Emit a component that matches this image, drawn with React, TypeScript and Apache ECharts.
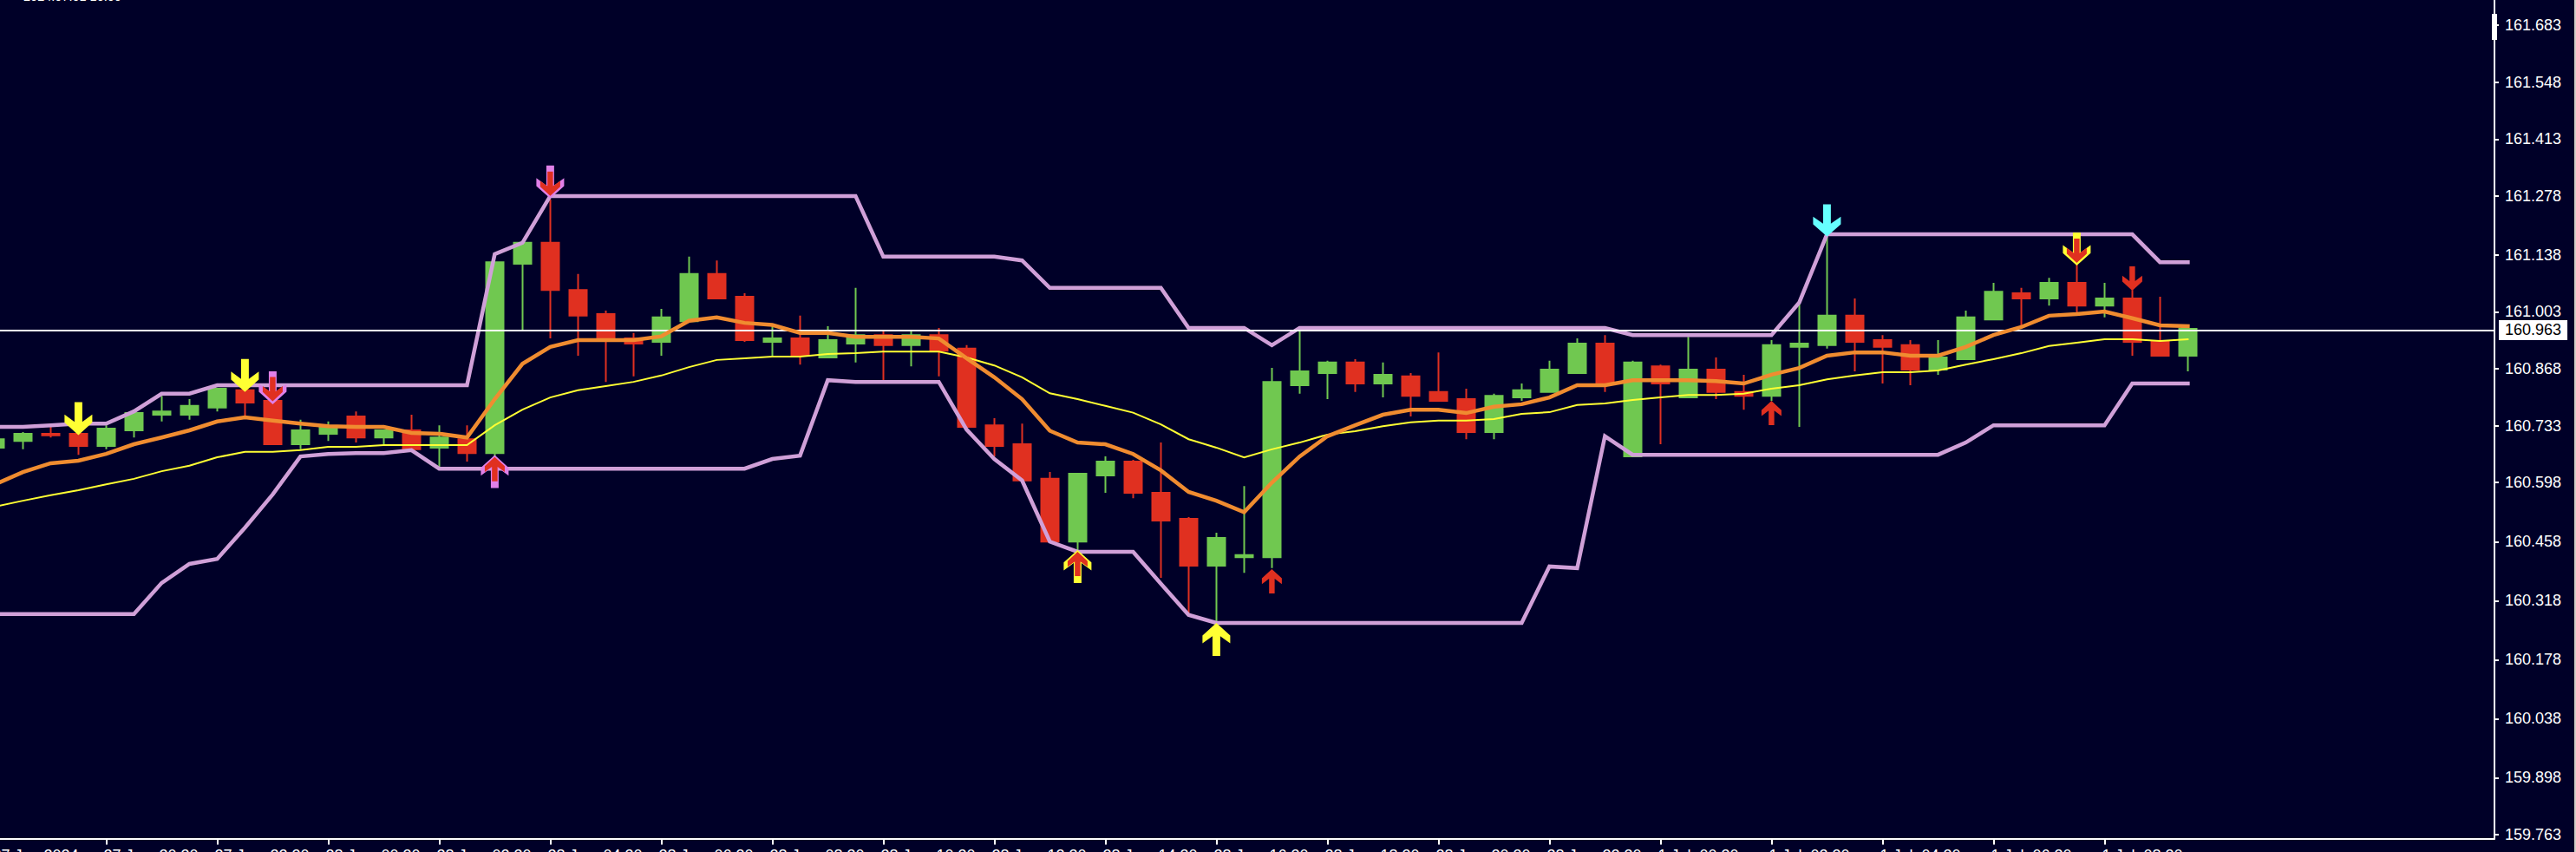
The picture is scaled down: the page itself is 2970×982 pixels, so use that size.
import React, { useEffect, useRef } from "react";
import * as echarts from "echarts";

const W = 2970;
const H = 982;

const opens = [160.681,160.697,160.714,160.714,160.685,160.722,160.759,160.759,160.776,160.817,160.792,160.689,160.714,160.755,160.705,160.722,160.681,160.701,160.668,161.117,161.167,161.055,160.998,160.940,160.932,160.981,161.093,161.039,160.932,160.940,160.895,160.928,160.948,160.924,160.948,160.916,160.734,160.689,160.607,160.458,160.615,160.648,160.574,160.512,160.401,160.421,160.421,160.829,160.858,160.883,160.833,160.850,160.813,160.796,160.718,160.800,160.813,160.858,160.928,160.660,160.874,160.800,160.866,160.813,160.804,160.920,160.924,160.994,160.936,160.924,160.866,160.891,160.985,161.047,161.035,161.072,161.018,161.035,160.932,160.899];
const closes = [160.701,160.714,160.710,160.685,160.726,160.763,160.767,160.780,160.821,160.788,160.689,160.722,160.730,160.705,160.722,160.677,160.705,160.668,161.121,161.167,161.055,160.994,160.936,160.928,160.990,161.093,161.035,160.936,160.940,160.899,160.936,160.948,160.924,160.948,160.911,160.730,160.685,160.603,160.458,160.619,160.648,160.574,160.508,160.401,160.467,160.426,160.837,160.862,160.883,160.833,160.854,160.804,160.792,160.718,160.804,160.817,160.866,160.928,160.833,160.883,160.833,160.866,160.813,160.804,160.924,160.928,160.994,160.932,160.920,160.866,160.895,160.990,161.051,161.035,161.072,161.018,161.035,160.932,160.899,160.963];
const lows = [160.681,160.677,160.705,160.664,160.677,160.705,160.743,160.747,160.767,160.755,160.689,160.677,160.697,160.693,160.689,160.677,160.635,160.648,160.660,160.957,160.940,160.899,160.837,160.850,160.899,160.981,161.035,160.932,160.899,160.878,160.895,160.883,160.841,160.874,160.850,160.730,160.660,160.603,160.458,160.434,160.574,160.561,160.372,160.288,160.263,160.384,160.395,160.809,160.796,160.813,160.800,160.755,160.792,160.701,160.701,160.792,160.813,160.858,160.813,160.660,160.689,160.800,160.796,160.771,160.792,160.730,160.916,160.862,160.833,160.829,160.854,160.891,160.985,160.969,161.018,160.996,160.990,160.899,160.899,160.862];
const highs = [160.701,160.718,160.730,160.714,160.734,160.763,160.804,160.796,160.821,160.817,160.792,160.747,160.743,160.767,160.722,160.759,160.734,160.734,161.121,161.167,161.270,161.093,161.006,160.953,161.010,161.134,161.125,161.047,160.969,160.994,160.969,161.060,160.957,160.961,160.965,160.924,160.751,160.738,160.623,160.619,160.660,160.652,160.693,160.516,160.479,160.590,160.870,160.957,160.887,160.891,160.883,160.858,160.907,160.821,160.809,160.833,160.887,160.940,160.948,160.887,160.878,160.944,160.895,160.854,160.936,161.023,161.181,161.035,160.948,160.936,160.936,161.006,161.072,161.060,161.084,161.115,161.072,161.055,161.039,160.965];

const upperBand = [160.730,160.730,160.734,160.738,160.738,160.767,160.809,160.809,160.829,160.829,160.829,160.829,160.829,160.829,160.829,160.829,160.829,160.829,161.140,161.167,161.278,161.278,161.278,161.278,161.278,161.278,161.278,161.278,161.278,161.278,161.278,161.278,161.134,161.134,161.134,161.134,161.134,161.125,161.060,161.060,161.060,161.060,161.060,160.965,160.965,160.965,160.924,160.965,160.965,160.965,160.965,160.965,160.965,160.965,160.965,160.965,160.965,160.965,160.965,160.948,160.948,160.948,160.948,160.948,160.948,161.025,161.187,161.187,161.187,161.187,161.187,161.187,161.187,161.187,161.187,161.187,161.187,161.187,161.121,161.121];
const lowerBand = [160.286,160.286,160.286,160.286,160.286,160.286,160.360,160.405,160.417,160.491,160.570,160.660,160.666,160.668,160.668,160.675,160.631,160.631,160.631,160.631,160.631,160.631,160.631,160.631,160.631,160.631,160.631,160.631,160.654,160.662,160.841,160.837,160.837,160.837,160.837,160.724,160.654,160.603,160.458,160.434,160.434,160.434,160.358,160.284,160.265,160.265,160.265,160.265,160.265,160.265,160.265,160.265,160.265,160.265,160.265,160.265,160.399,160.395,160.708,160.664,160.664,160.664,160.664,160.664,160.664,160.664,160.664,160.664,160.664,160.664,160.664,160.693,160.734,160.734,160.734,160.734,160.734,160.833,160.833,160.833];
const fastAverage = [160.594,160.623,160.644,160.650,160.666,160.689,160.705,160.722,160.743,160.753,160.745,160.738,160.732,160.730,160.730,160.716,160.714,160.705,160.796,160.880,160.920,160.936,160.936,160.936,160.945,160.982,160.990,160.977,160.972,160.953,160.953,160.944,160.944,160.944,160.940,160.893,160.848,160.796,160.721,160.693,160.689,160.666,160.627,160.576,160.555,160.528,160.598,160.660,160.708,160.734,160.759,160.771,160.771,160.763,160.778,160.784,160.800,160.829,160.829,160.841,160.841,160.841,160.839,160.833,160.854,160.870,160.899,160.907,160.907,160.899,160.899,160.920,160.948,160.967,160.994,160.998,161.004,160.988,160.971,160.969];
const slowAverage = [160.541,160.555,160.568,160.580,160.594,160.607,160.625,160.638,160.658,160.671,160.671,160.675,160.683,160.683,160.687,160.687,160.687,160.687,160.734,160.771,160.800,160.817,160.827,160.837,160.852,160.872,160.889,160.893,160.897,160.897,160.903,160.905,160.909,160.909,160.909,160.895,160.876,160.848,160.810,160.796,160.780,160.764,160.736,160.701,160.681,160.658,160.677,160.693,160.712,160.720,160.732,160.741,160.745,160.745,160.749,160.761,160.765,160.782,160.786,160.794,160.800,160.806,160.806,160.809,160.821,160.829,160.843,160.852,160.860,160.860,160.864,160.878,160.891,160.905,160.922,160.930,160.938,160.938,160.934,160.938];

const lastPrice = 160.963;
const priceTicks = [161.683,161.548,161.413,161.278,161.138,161.003,160.868,160.733,160.598,160.458,160.318,160.178,160.038,159.898,159.763];
const timeTickBars = [0,4,8,12,16,20,24,28,32,36,40,44,48,52,56,60,64,68,72,76];
const timeTickLabels = ["27 Jun 2024","27 Jun  20:30","27 Jun  22:30","28 Jun  00:30","28 Jun  02:30","28 Jun  04:30","28 Jun  06:30","28 Jun  08:30","28 Jun  10:30","28 Jun  12:30","28 Jun  14:30","28 Jun  16:30","28 Jun  18:30","28 Jun  20:30","28 Jun  22:30","1 Jul  00:30","1 Jul  02:30","1 Jul  04:30","1 Jul  06:30","1 Jul  08:30"];

const arrowsYellowDown = [[3,160.750],[9,160.852],[75,161.152]];
const arrowsYellowUp = [[39,160.399],[44,160.226]];
const arrowsLilacDown = [[10,160.823],[20,161.311]];
const arrowsLilacUp = [[18,160.624]];
const arrowsCyanDown = [[66,161.220]];
const arrowsRedDown = [[10,160.820],[20,161.307],[75,161.148],[77,161.082]];
const arrowsRedUp = [[18,160.630],[39,160.405],[46,160.364],[64,160.763]];

const BG = "#000028";
const GREEN = "#70C850";
const RED = "#E03020";
const LILAC = "#D0A0D8";
const ORANGE = "#F08C30";
const YELLOW = "#FFFF33";
const FONT = "'Liberation Sans', Arial, sans-serif";

const ARROW_DOWN = "path://M36 0L64 0L64 60L100 38L100 62L50 100L0 62L0 38L36 60Z";
const ARROW_UP = "path://M36 100L64 100L64 40L100 62L100 38L50 0L0 38L0 62L36 40Z";

const line = (name: string, values: number[], color: string, width: number, z: number) => ({
  name,
  type: "line",
  data: values.map((v, i) => [i, v]),
  showSymbol: false,
  symbol: "none",
  z,
  lineStyle: { color, width, cap: "square", join: "miter" },
  silent: true,
});

const arrows = (name: string, data: number[][], path: string, color: string, size: number[], z: number) => ({
  name,
  type: "scatter",
  data,
  symbol: path,
  symbolSize: size,
  z,
  silent: true,
  itemStyle: { color, opacity: 1 },
});

export default function App() {
  const ref = useRef<HTMLDivElement>(null);
  useEffect(() => {
    const chart = echarts.init(ref.current!, undefined, { renderer: "svg", width: W, height: H });
    const labelShift = 0.09;
    chart.setOption({
      animation: false,
      backgroundColor: BG,
      grid: { left: -32, top: 0, width: 2908, height: 966.5, containLabel: false, outerBoundsMode: "none" },
      xAxis: {
        type: "value",
        min: -0.825,
        max: 90.05,
        splitLine: { show: false },
        axisLine: { show: true, onZero: false, lineStyle: { color: "#fff", width: 2 } },
        axisTick: { show: true, length: 7, customValues: timeTickBars, lineStyle: { color: "#fff", width: 2 } },
        axisLabel: {
          show: true,
          customValues: timeTickBars.map((b) => b - labelShift),
          formatter: (v: number) => timeTickLabels[timeTickBars.indexOf(Math.round(v + labelShift))] ?? "",
          color: "#fff",
          fontFamily: FONT,
          fontSize: 18,
          align: "left",
          verticalAlign: "top",
          margin: 10,
        },
      },
      yAxis: {
        type: "value",
        position: "right",
        min: 159.7535,
        max: 161.743,
        splitLine: { show: false },
        axisLine: { show: true, onZero: false, lineStyle: { color: "#fff", width: 2 } },
        axisTick: { show: true, length: 5, customValues: priceTicks, lineStyle: { color: "#fff", width: 2 } },
        axisLabel: {
          show: true,
          customValues: priceTicks,
          formatter: (v: number) => v.toFixed(3),
          color: "#fff",
          fontFamily: FONT,
          fontSize: 18,
          margin: 12,
          align: "left",
          verticalAlign: "middle",
        },
      },
      series: [
        {
          name: "price line",
          type: "line",
          data: [],
          z: 1,
          silent: true,
          markLine: {
            silent: true,
            symbol: "none",
            animation: false,
            lineStyle: { color: "#fff", width: 2, type: "solid" },
            label: {
              show: true,
              position: "end",
              distance: 5,
              formatter: () => lastPrice.toFixed(3),
              color: "#000",
              backgroundColor: "#fff",
              fontFamily: FONT,
              fontSize: 18,
              padding: [3, 7, 2, 7],
              align: "left",
              verticalAlign: "middle",
            },
            data: [{ yAxis: lastPrice }],
          },
        },
        {
          name: "USDJPY",
          type: "candlestick",
          z: 2,
          silent: true,
          barWidth: 20,
          encode: { x: 0, y: [1, 2, 3, 4] },
          data: opens.map((o, i) => [i, o, closes[i], lows[i], highs[i]]),
          itemStyle: { color: GREEN, color0: RED, borderColor: GREEN, borderColor0: RED, borderWidth: 2 },
        },
        line("slow average", slowAverage, YELLOW, 2, 3),
        line("upper band", upperBand, LILAC, 4.5, 4),
        line("lower band", lowerBand, LILAC, 4.5, 4),
        line("fast average", fastAverage, ORANGE, 4.5, 5),
        arrows("yellow down", arrowsYellowDown, ARROW_DOWN, YELLOW, [32, 38], 6),
        arrows("yellow up", arrowsYellowUp, ARROW_UP, YELLOW, [32, 38], 6),
        arrows("lilac down", arrowsLilacDown, ARROW_DOWN, "#E080E8", [32, 38], 6),
        arrows("lilac up", arrowsLilacUp, ARROW_UP, "#E080E8", [32, 38], 6),
        arrows("cyan down", arrowsCyanDown, ARROW_DOWN, "#66FFFF", [32, 37], 6),
        arrows("red down", arrowsRedDown, ARROW_DOWN, RED, [23, 28], 7),
        arrows("red up", arrowsRedUp, ARROW_UP, RED, [23, 28], 7),
      ],
      graphic: [
        { type: "rect", shape: { x: 2968, y: 0, width: 2, height: H }, style: { fill: "#D4D0C8" }, silent: true, z: 20 },
        { type: "rect", shape: { x: 2873, y: 16, width: 6, height: 30 }, style: { fill: "#fff" }, silent: true, z: 20 },
        {
          type: "text",
          x: 27,
          y: 3,
          silent: true,
          z: 20,
          style: { text: "2024.07.01 10:00", fill: "#fff", font: `14.5px ${FONT}`, textVerticalAlign: "bottom", textBaseline: "bottom" },
        },
      ],
    });
    return () => chart.dispose();
  }, []);
  return <div ref={ref} style={{ position: "fixed", left: 0, top: 0, width: W, height: H, overflow: "hidden" }} />;
}
